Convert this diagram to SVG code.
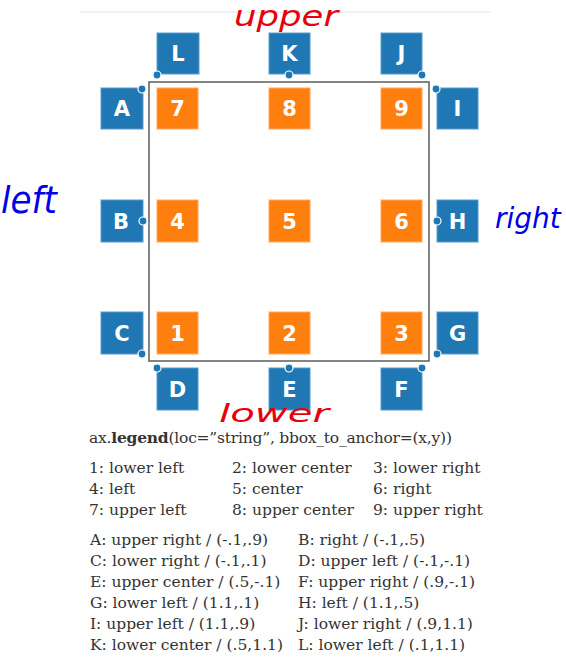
<svg xmlns="http://www.w3.org/2000/svg" width="566" height="666" viewBox="0 0 566 666">
<style>
.o{fill:#ff7f0e;stroke:#ffa860;stroke-width:1}
.b{fill:#1f77b4;stroke:#5a9bc9;stroke-width:1}
.l{font-family:"DejaVu Sans",sans-serif;font-weight:bold;font-size:21px;fill:#fff;text-anchor:middle}
.d{fill:#1f77b4;stroke:#fff;stroke-width:1.2}
.t{font-family:"DejaVu Serif",serif;font-size:15.5px;fill:#333}
.hr{font-family:"DejaVu Sans",sans-serif;font-style:italic;fill:#e8000b}
.hb{font-family:"DejaVu Sans",sans-serif;font-style:italic;fill:#0000e6}
</style>
<rect width="566" height="666" fill="#fff"/>
<line x1="80" y1="12" x2="491" y2="12" stroke="#eeeeee" stroke-width="1.5"/>
<g id="axes"><rect x="149" y="82" width="280" height="279" fill="none" stroke="#666" stroke-width="1.6"/></g>
<g id="n7"><rect class="o" x="157" y="88" width="41" height="41"/><text class="l" x="177.5" y="116">7</text></g>
<g id="n8"><rect class="o" x="269" y="88" width="41" height="41"/><text class="l" x="289.5" y="116">8</text></g>
<g id="n9"><rect class="o" x="381" y="88" width="41" height="41"/><text class="l" x="401.5" y="116">9</text></g>
<g id="n4"><rect class="o" x="157" y="200" width="41" height="42"/><text class="l" x="177.5" y="228.5">4</text></g>
<g id="n5"><rect class="o" x="269" y="200" width="41" height="42"/><text class="l" x="289.5" y="228.5">5</text></g>
<g id="n6"><rect class="o" x="381" y="200" width="41" height="42"/><text class="l" x="401.5" y="228.5">6</text></g>
<g id="n1"><rect class="o" x="157" y="312" width="41" height="42"/><text class="l" x="177.5" y="340.5">1</text></g>
<g id="n2"><rect class="o" x="269" y="312" width="41" height="42"/><text class="l" x="289.5" y="340.5">2</text></g>
<g id="n3"><rect class="o" x="381" y="312" width="41" height="42"/><text class="l" x="401.5" y="340.5">3</text></g>
<g id="nL"><rect class="b" x="157" y="33" width="42" height="41"/><text class="l" x="178" y="61">L</text><circle class="d" cx="157" cy="75" r="4"/></g>
<g id="nK"><rect class="b" x="269" y="33" width="41" height="41"/><text class="l" x="289.5" y="61">K</text><circle class="d" cx="289" cy="75" r="4"/></g>
<g id="nJ"><rect class="b" x="381" y="33" width="41" height="41"/><text class="l" x="401.5" y="61">J</text><circle class="d" cx="422" cy="75" r="4"/></g>
<g id="nA"><rect class="b" x="101" y="88" width="42" height="41"/><text class="l" x="122" y="116">A</text><circle class="d" cx="142" cy="89" r="4"/></g>
<g id="nI"><rect class="b" x="437" y="88" width="41" height="41"/><text class="l" x="457.5" y="116">I</text><circle class="d" cx="436" cy="89" r="4"/></g>
<g id="nB"><rect class="b" x="101" y="200" width="42" height="42"/><text class="l" x="121" y="228.5">B</text><circle class="d" cx="143" cy="221" r="4"/></g>
<g id="nH"><rect class="b" x="437" y="200" width="41" height="42"/><text class="l" x="457.5" y="228.5">H</text><circle class="d" cx="437" cy="221" r="4"/></g>
<g id="nC"><rect class="b" x="101" y="312" width="42" height="42"/><text class="l" x="122" y="340.5">C</text><circle class="d" cx="142" cy="354" r="4"/></g>
<g id="nG"><rect class="b" x="437" y="312" width="41" height="42"/><text class="l" x="457.5" y="340.5">G</text><circle class="d" cx="437" cy="354" r="4"/></g>
<g id="nD"><rect class="b" x="157" y="368" width="41" height="42"/><text class="l" x="177.5" y="396.5">D</text><circle class="d" cx="157" cy="368" r="4"/></g>
<g id="nE"><rect class="b" x="269" y="368" width="41" height="42"/><text class="l" x="289.5" y="396.5">E</text><circle class="d" cx="289" cy="368" r="4"/></g>
<g id="nF"><rect class="b" x="381" y="368" width="41" height="42"/><text class="l" x="401.5" y="396.5">F</text><circle class="d" cx="422" cy="368" r="4"/></g>
<g id="connectors"></g>
<g id="annotations">
<text class="hr" x="234" y="26" font-size="28" textLength="104" lengthAdjust="spacingAndGlyphs">upper</text>
<text class="hb" x="1" y="213" font-size="38" textLength="56" lengthAdjust="spacingAndGlyphs">left</text>
<text class="hb" x="495" y="228" font-size="28">right</text>
<text class="hr" x="219" y="422" font-size="24" textLength="110" lengthAdjust="spacingAndGlyphs">lower</text>
</g>
<g id="text">
<text class="t" x="89" y="443" textLength="363">ax.<tspan font-weight="bold">legend</tspan>(loc=”string”, bbox_to_anchor=(x,y))</text>
<text class="t" x="89" y="473">1: lower left</text><text class="t" x="232" y="473">2: lower center</text><text class="t" x="373" y="473">3: lower right</text>
<text class="t" x="89" y="494">4: left</text><text class="t" x="232" y="494">5: center</text><text class="t" x="373" y="494">6: right</text>
<text class="t" x="89" y="515">7: upper left</text><text class="t" x="232" y="515">8: upper center</text><text class="t" x="373" y="515">9: upper right</text>
<text class="t" x="90" y="545">A: upper right / (-.1,.9)</text><text class="t" x="298" y="545">B: right / (-.1,.5)</text>
<text class="t" x="90" y="566">C: lower right / (-.1,.1)</text><text class="t" x="298" y="566">D: upper left / (-.1,-.1)</text>
<text class="t" x="90" y="587">E: upper center / (.5,-.1)</text><text class="t" x="298" y="587">F: upper right / (.9,-.1)</text>
<text class="t" x="90" y="608">G: lower left / (1.1,.1)</text><text class="t" x="298" y="608">H: left / (1.1,.5)</text>
<text class="t" x="90" y="629">I: upper left / (1.1,.9)</text><text class="t" x="298" y="629">J: lower right / (.9,1.1)</text>
<text class="t" x="90" y="650">K: lower center / (.5,1.1)</text><text class="t" x="298" y="650">L: lower left / (.1,1.1)</text>
</g>
</svg>
